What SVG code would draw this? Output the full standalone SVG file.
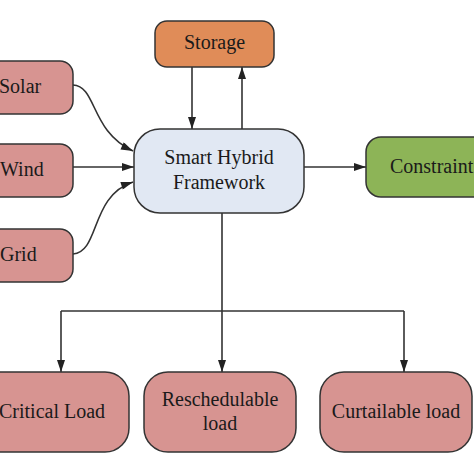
<svg xmlns="http://www.w3.org/2000/svg" width="474" height="474" viewBox="0 0 474 474">
<defs>
<marker id="ah" viewBox="0 0 12 8" refX="12" refY="4" markerWidth="13" markerHeight="8" markerUnits="userSpaceOnUse" orient="auto">
<path d="M0,0 L12,4 L0,8 z" fill="#222"/>
</marker>
</defs>
<style>
.box{stroke:#333;stroke-width:1.5}
.red{fill:#d79491}
.t{font-family:"Liberation Serif","Times New Roman",serif;font-size:20px;fill:#1a1a1a}
.c{stroke:#333;stroke-width:1.6;fill:none}
</style>
<rect width="474" height="474" fill="#fff"/>
<g id="connectors">
<path class="c" d="M192,67 V129" marker-end="url(#ah)"/>
<path class="c" d="M242,129 V67" marker-end="url(#ah)"/>
<path class="c" d="M73,85 C97,86 90,131 133,151" marker-end="url(#ah)"/>
<path class="c" d="M73,167 H134" marker-end="url(#ah)"/>
<path class="c" d="M73,254 C100,252 90,196 133,182" marker-end="url(#ah)"/>
<path class="c" d="M304,167 H366" marker-end="url(#ah)"/>
<path class="c" d="M222,213 V372" marker-end="url(#ah)"/>
<path class="c" d="M61,311 H404"/>
<path class="c" d="M404,311 V372" marker-end="url(#ah)"/>
<path class="c" d="M61,311 V372" marker-end="url(#ah)"/>
</g>
<g id="storage">
<rect class="box" x="155" y="21" width="119" height="46" rx="12" fill="#e08c58"/>
<text class="t" x="214.5" y="49" text-anchor="middle">Storage</text>
</g>
<g id="solar">
<rect class="box red" x="-40" y="61" width="113" height="53" rx="13"/>
<text class="t" x="-1" y="93">Solar</text>
</g>
<g id="wind">
<rect class="box red" x="-40" y="144" width="113" height="53" rx="13"/>
<text class="t" x="0" y="176">Wind</text>
</g>
<g id="grid">
<rect class="box red" x="-40" y="229" width="113" height="53" rx="13"/>
<text class="t" x="0" y="261">Grid</text>
</g>
<g id="smart-hybrid">
<rect class="box" x="134" y="129" width="170" height="84" rx="26" fill="#e1e8f3"/>
<text class="t" x="219" y="164" text-anchor="middle">Smart Hybrid</text>
<text class="t" x="219" y="189" text-anchor="middle">Framework</text>
</g>
<g id="constraint">
<rect class="box" x="366" y="137" width="140" height="60" rx="15" fill="#8db457"/>
<text class="t" x="390" y="173">Constraint</text>
</g>
<g id="critical-load">
<rect class="box red" x="-30" y="372" width="159" height="80" rx="24"/>
<text class="t" x="-1" y="418">Critical Load</text>
</g>
<g id="reschedulable-load">
<rect class="box red" x="144" y="372" width="152" height="80" rx="24"/>
<text class="t" x="220" y="406" text-anchor="middle">Reschedulable</text>
<text class="t" x="220" y="430" text-anchor="middle">load</text>
</g>
<g id="curtailable-load">
<rect class="box red" x="320" y="372" width="152" height="80" rx="24"/>
<text class="t" x="396" y="418" text-anchor="middle">Curtailable load</text>
</g>
</svg>
